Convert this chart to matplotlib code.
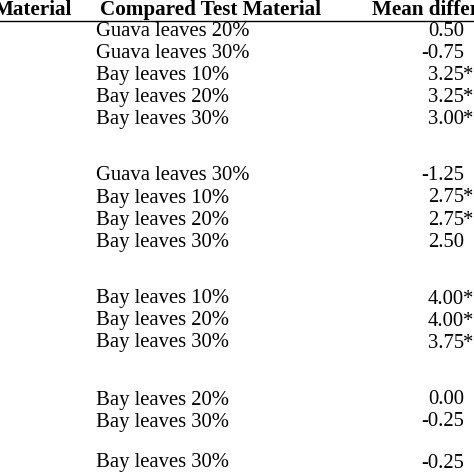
import matplotlib
matplotlib.use("Agg")
import matplotlib.pyplot as plt

headers = ["Material", "Compared Test Material", "Mean differ"]
materials = ["Guava leaves 20%", "Guava leaves 30%", "Bay leaves 10%", "Bay leaves 20%", "Bay leaves 30%",
             "Guava leaves 30%", "Bay leaves 10%", "Bay leaves 20%", "Bay leaves 30%",
             "Bay leaves 10%", "Bay leaves 20%", "Bay leaves 30%",
             "Bay leaves 20%", "Bay leaves 30%",
             "Bay leaves 30%"]
values = ["0.50", "-0.75", "3.25", "3.25", "3.00", "-1.25", "2.75", "2.75", "2.50",
          "4.00", "4.00", "3.75", "0.00", "-0.25", "-0.25"]
stars = ["", "", "*", "*", "*", "", "*", "*", "", "*", "*", "*", "", "", ""]
row_y = [31, 53, 75, 97, 119, 176, 198, 220, 242, 299, 321, 343, 400, 422, 463]

fig = plt.figure(figsize=(4.74, 4.74), dpi=100)
ax = fig.add_axes([0, 0, 1, 1])
ax.set_xlim(0, 474)
ax.set_ylim(474, 0)
ax.axis("off")
fam = ["Liberation Serif"]
fs = 14.9
ax.text(72, 10, headers[0], ha="right", va="center", fontsize=15.2, fontweight="bold", family=fam)
ax.text(100, 10, headers[1], ha="left", va="center", fontsize=15.2, fontweight="bold", family=fam)
ax.text(372, 10, headers[2], ha="left", va="center", fontsize=15.2, fontweight="bold", family=fam)
ax.plot([0, 474], [20.5, 20.5], color="black", lw=1)
for m, v, s, y in zip(materials, values, stars, row_y):
    ax.text(96, y, m, ha="left", va="center", fontsize=fs, family=fam)
    ax.text(464, y, v, ha="right", va="center", fontsize=fs, family=fam)
    if s:
        ax.text(463, y, s, ha="left", va="center", fontsize=fs, family=fam)
fig.savefig("out.png", dpi=100)
